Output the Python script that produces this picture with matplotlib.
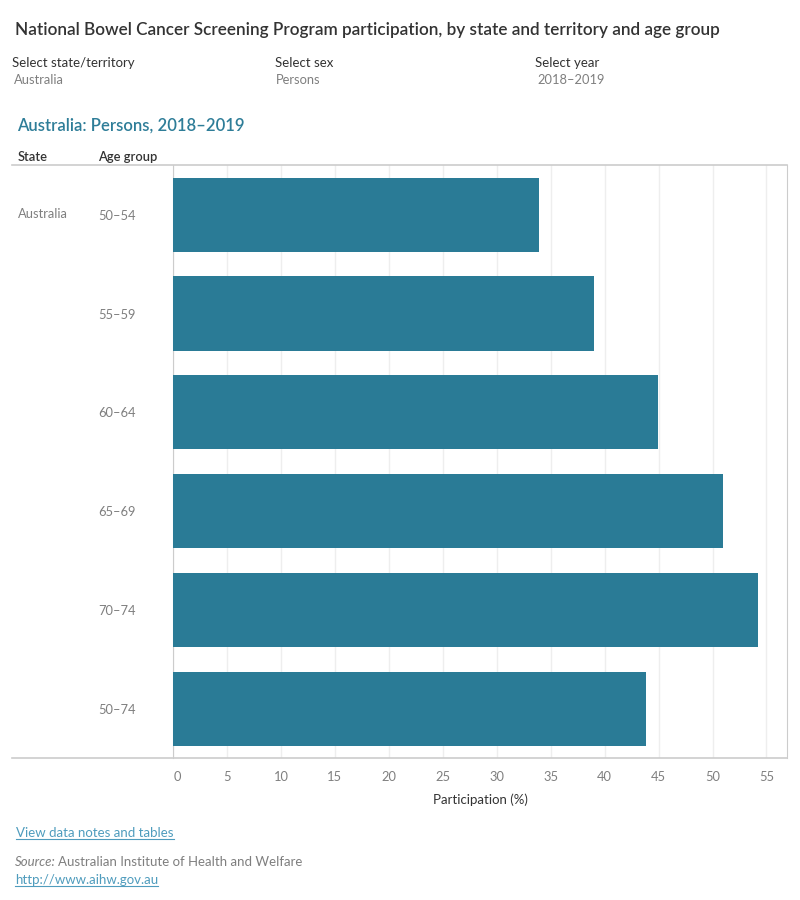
import matplotlib
matplotlib.use("Agg")
import matplotlib.pyplot as plt
from matplotlib.lines import Line2D
import matplotlib.transforms as mtransforms

# ---- data ----
state = "Australia"
age_groups = ["50–54", "55–59", "60–64", "65–69", "70–74", "50–74"]
participation = [33.9, 39.0, 44.9, 51.0, 54.2, 43.8]
x_ticks = [0, 5, 10, 15, 20, 25, 30, 35, 40, 45, 50, 55]

BAR = "#2a7b96"
DARK = "#333333"
GRAY = "#7f7f7f"
TEAL = "#2e7d98"
LINK = "#4f9cbd"
LINE = "#cccccc"

plt.rcParams['font.family'] = ['Lato', 'DejaVu Sans']

W, H = 800, 900
fig = plt.figure(figsize=(W / 100, H / 100), dpi=100)

def fx(px):
    return px / W

def fy(py):
    return 1 - py / H

left, right, top, bottom = 173, 787, 165.3, 758.3
ax = fig.add_axes([fx(left), fy(bottom), fx(right - left), (bottom - top) / H])

y = list(range(len(age_groups)))
ax.barh(y, participation, height=0.75, color=BAR, zorder=3)
ax.set_ylim(len(age_groups) - 0.5, -0.5)
ax.set_xlim(0, 56.9)
ax.set_xticks(x_ticks)
ax.set_xticklabels([str(t) for t in x_ticks], color=GRAY, fontsize=9.3)
ax.tick_params(axis='x', length=0, pad=9)
# first label nudged right so it sits inside the axis, as in the reference
zero_lab = ax.get_xticklabels()[0]
offset = mtransforms.ScaledTranslation(4 / 100, 0, fig.dpi_scale_trans)
zero_lab.set_transform(zero_lab.get_transform() + offset)

ax.set_yticks(y)
ax.set_yticklabels(age_groups, color=GRAY, fontsize=9.3, ha='left')
ax.tick_params(axis='y', length=0, pad=(left - 98) * 0.72)

ax.grid(axis='x', color='#eeeeee', linewidth=1, zorder=0)
for s in ['top', 'bottom']:
    ax.spines[s].set_visible(False)
ax.spines['left'].set_color(LINE)
ax.spines['right'].set_color(LINE)
ax.set_xlabel("Participation (%)", color=DARK, fontsize=9.5, labelpad=8)

# horizontal rules across full table width
fig.add_artist(Line2D([fx(12), fx(787)], [fy(165.3), fy(165.3)], color=LINE, lw=1.2))
fig.add_artist(Line2D([fx(12), fx(787)], [fy(758.3), fy(758.3)], color=LINE, lw=1.2))

# state label
fig.text(fx(18), fy(214), state, color=GRAY, fontsize=9.3, va='center', ha='left')

# headers
fig.text(fx(15), fy(30), "National Bowel Cancer Screening Program participation, by state and territory and age group",
         color=DARK, fontsize=12.3, fontweight='semibold', va='center', ha='left')
fig.text(fx(12), fy(63), "Select state/territory", color=DARK, fontsize=9.5, va='center')
fig.text(fx(14), fy(80), "Australia", color=GRAY, fontsize=9.3, va='center')
fig.text(fx(275), fy(63), "Select sex", color=DARK, fontsize=9.5, va='center')
fig.text(fx(276), fy(80), "Persons", color=GRAY, fontsize=9.3, va='center')
fig.text(fx(535), fy(63), "Select year", color=DARK, fontsize=9.5, va='center')
fig.text(fx(537), fy(80), "2018–2019", color=GRAY, fontsize=9.3, va='center')

fig.text(fx(17), fy(126), "Australia: Persons, 2018–2019", color=TEAL, fontsize=12,
         fontweight='semibold', va='center')
fig.text(fx(18), fy(157), "State", color=DARK, fontsize=9.3, fontweight='semibold', va='center')
fig.text(fx(98), fy(157), "Age group", color=DARK, fontsize=9.3, fontweight='semibold', va='center')

# footer
t = fig.text(fx(16), fy(833), "View data notes and tables", color=LINK, fontsize=9.5, va='center')
fig.canvas.draw()
r = fig.canvas.get_renderer()
bb = t.get_window_extent(r)
fig.add_artist(Line2D([bb.x0 / W, bb.x1 / W], [bb.y0 / H - 0.0005, bb.y0 / H - 0.0005], color=LINK, lw=0.8))

s1 = fig.text(fx(15), fy(862), "Source:", color=GRAY, fontsize=9.5, style='italic', va='center')
bb1 = s1.get_window_extent(r)
fig.text(bb1.x1 / W + 0.003, fy(862), "Australian Institute of Health and Welfare", color=GRAY, fontsize=9.5, va='center')
u = fig.text(fx(15), fy(880), "http://www.aihw.gov.au", color=LINK, fontsize=9.5, va='center')
bb2 = u.get_window_extent(r)
fig.add_artist(Line2D([bb2.x0 / W, bb2.x1 / W], [bb2.y0 / H - 0.0005, bb2.y0 / H - 0.0005], color=LINK, lw=0.8))

fig.savefig("out.png", dpi=100)
